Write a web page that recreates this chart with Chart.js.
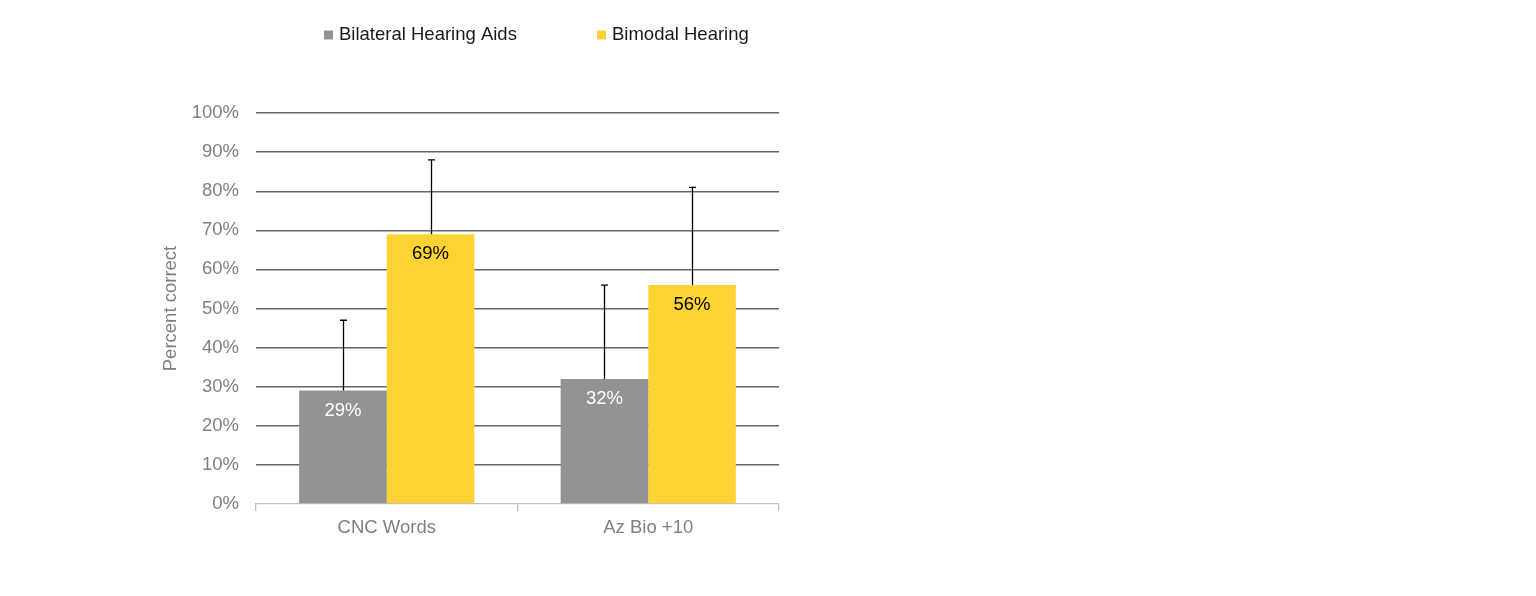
<!DOCTYPE html>
<html>
<head>
<meta charset="utf-8">
<script src="https://cdn.jsdelivr.net/npm/chart.js@4/dist/chart.umd.min.js"></script>
<style>
  html, body { margin: 0; padding: 0; background: #ffffff; }
  #wrap { position: relative; width: 1536px; height: 596px; }
</style>
</head>
<body>
<div id="wrap"><canvas id="c" width="1536" height="596"></canvas></div>
<script>
const categories = ["CNC Words", "Az Bio +10"];
const seriesNames = ["Bilateral Hearing Aids", "Bimodal Hearing"];
const bilateral = [29, 32];
const bimodal = [69, 56];
const bilateralErr = [18, 24];
const bimodalErr = [19, 25];
const yTicks = [0, 10, 20, 30, 40, 50, 60, 70, 80, 90, 100];

const FONT = "'Liberation Sans', Arial, sans-serif";
const FS = 18.5;

const errorBars = {
  id: 'errorBars',
  afterDatasetsDraw(chart) {
    const ctx = chart.ctx;
    const y = chart.scales.y;
    ctx.save();
    ctx.strokeStyle = '#000000';
    ctx.lineWidth = 1.3;
    chart.data.datasets.forEach((ds, i) => {
      const meta = chart.getDatasetMeta(i);
      meta.data.forEach((bar, j) => {
        const top = y.getPixelForValue(ds.data[j] + ds.err[j]);
        const x = Math.round(bar.x) + 0.5;
        ctx.beginPath();
        ctx.moveTo(x, bar.y);
        ctx.lineTo(x, top);
        ctx.moveTo(x - 3.5, top);
        ctx.lineTo(x + 3.5, top);
        ctx.stroke();
      });
    });
    ctx.restore();
  }
};

const dataLabels = {
  id: 'dataLabels',
  afterDatasetsDraw(chart) {
    const ctx = chart.ctx;
    ctx.save();
    ctx.font = FS + "px " + FONT;
    ctx.textAlign = 'center';
    ctx.textBaseline = 'middle';
    chart.data.datasets.forEach((ds, i) => {
      const meta = chart.getDatasetMeta(i);
      meta.data.forEach((bar, j) => {
        ctx.fillStyle = ds.labelColor;
        ctx.fillText(ds.data[j] + '%', bar.x, bar.y + 20);
      });
    });
    ctx.restore();
  }
};

const customLegend = {
  id: 'customLegend',
  afterDraw(chart) {
    const ctx = chart.ctx;
    ctx.save();
    ctx.font = FS + "px " + FONT;
    ctx.textBaseline = 'middle';
    ctx.textAlign = 'left';
    const xs = [324, 597];
    const yc = 35;
    chart.data.datasets.forEach((ds, i) => {
      ctx.fillStyle = ds.backgroundColor;
      ctx.fillRect(xs[i], yc - 4.5, 9, 9);
      ctx.fillStyle = '#1a1a1a';
      ctx.fillText(ds.label, xs[i] + 15, yc);
    });
    ctx.restore();
  }
};

new Chart(document.getElementById('c'), {
  type: 'bar',
  data: {
    labels: categories,
    datasets: [
      { label: seriesNames[0], data: bilateral, err: bilateralErr, backgroundColor: '#939393', labelColor: '#ffffff',
        barPercentage: 1.0, categoryPercentage: 0.67 },
      { label: seriesNames[1], data: bimodal, err: bimodalErr, backgroundColor: '#fdd333', labelColor: '#000000',
        barPercentage: 1.0, categoryPercentage: 0.67 }
    ]
  },
  options: {
    responsive: false,
    animation: false,
    devicePixelRatio: 1,
    layout: { padding: { left: 160, right: 757, top: 113, bottom: 52 } },
    plugins: {
      legend: { display: false },
      tooltip: { enabled: false }
    },
    scales: {
      x: {
        offset: true,
        grid: { display: true, drawOnChartArea: false, drawTicks: true, tickLength: 7, color: '#bfbfbf', lineWidth: 1.3, offset: true },
        border: { display: true, color: '#bfbfbf', width: 1.3 },
        ticks: { color: '#7f7f7f', font: { family: FONT, size: FS }, padding: 6 },
        afterFit(scale) { scale.height = 40; }
      },
      y: {
        min: 0, max: 100,
        afterBuildTicks(scale) { scale.ticks = yTicks.map(v => ({ value: v })); },
        grid: {
          drawTicks: false,
          color: (c) => c.tick && c.tick.value === 0 ? 'rgba(0,0,0,0)' : '#666666',
          lineWidth: 1.4
        },
        border: { display: false },
        ticks: { color: '#7f7f7f', font: { family: FONT, size: FS }, padding: 17,
          callback: (v) => v + '%' },
        title: { display: true, text: 'Percent correct', color: '#7f7f7f', font: { family: FONT, size: FS }, padding: 0 },
        afterFit(scale) { scale.width = 96; }
      }
    }
  },
  plugins: [errorBars, dataLabels, customLegend]
});
</script>
</body>
</html>
